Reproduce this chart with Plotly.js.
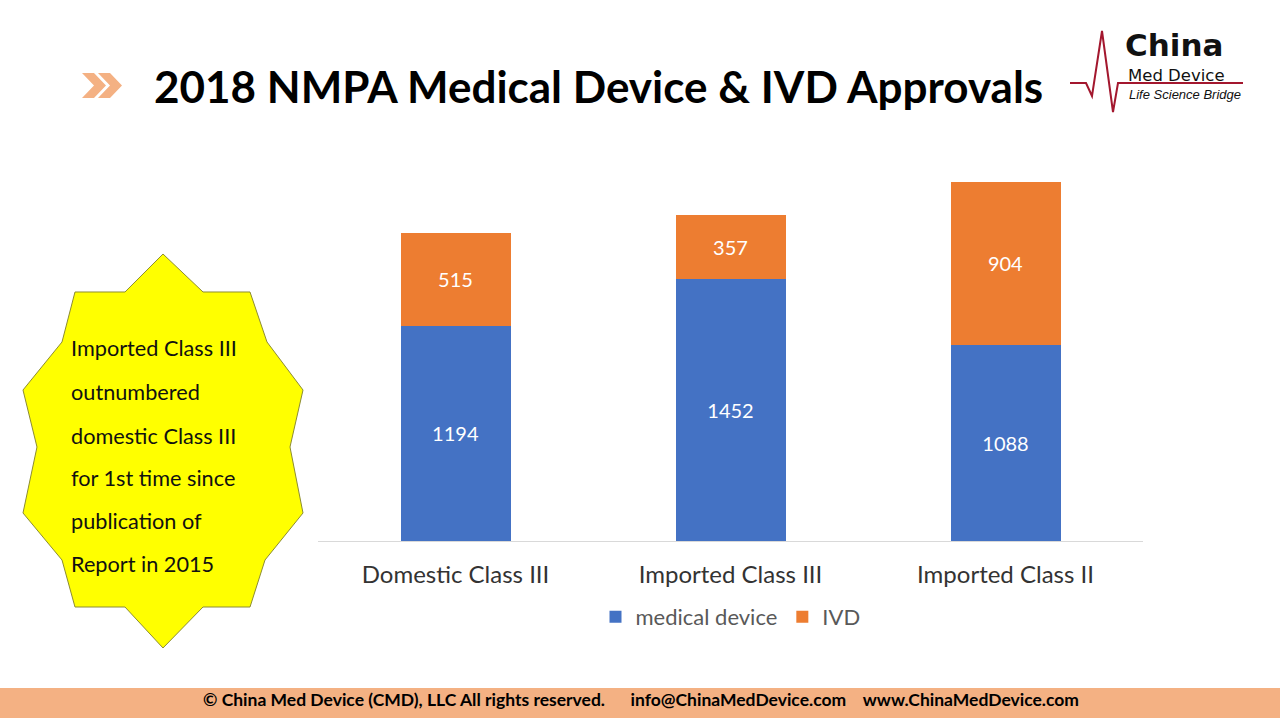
<!DOCTYPE html>
<html>
<head>
<meta charset="utf-8">
<script src="https://cdn.plot.ly/plotly-3.0.1.min.js"></script>
<style>
html,body{margin:0;padding:0;background:#fff;}
#chart{width:1280px;height:720px;}
</style>
</head>
<body>
<div id="chart"></div>
<script>
const categories = ["Domestic Class III", "Imported Class III", "Imported Class II"];
const medicalDevice = [1194, 1452, 1088];
const ivd = [515, 357, 904];
const seriesNames = ["medical device", "IVD"];
const titleText = "2018 NMPA Medical Device &amp; IVD Approvals";
const calloutLines = ["Imported Class III", "outnumbered", "domestic Class III", "for 1st time since", "publication of", "Report in 2015"];
const footerText = "© China Med Device (CMD), LLC All rights reserved.      info@ChinaMedDevice.com    www.ChinaMedDevice.com";

const W = 1280, H = 720;
const L = 318, R = 1143, T = 145, B = 541;
const px = x => (x - L) / (R - L);
const py = y => (B - y) / (B - T);
const FONT = "Lato, 'Open Sans', sans-serif";
const LOGO = "'DejaVu Sans', 'Liberation Sans', sans-serif";

function path(pts) {
  return "M" + pts.map(p => px(p[0]).toFixed(5) + "," + py(p[1]).toFixed(5)).join(" L") + " Z";
}

const star = [[163,254],[203,292],[250,292],[267,342],[303,390],[290,447],[303,513],[265,560],[250,607],[203,607],[163,648],[125,607],[75,607],[62,560],[23,513],[37,447],[23,390],[62,342],[75,292],[125,292]];
const chev1 = [[82,73],[94,73],[106,85.5],[94,98],[82,98],[94,85.5]];
const chev2 = [[98,73],[110,73],[122,85.5],[110,98],[98,98],[110,85.5]];
const ecg = [[1070,83],[1086,83],[1092,96],[1102,31],[1113,112],[1118,83],[1243,83]];

const shapes = [
  {type:"rect", xref:"paper", yref:"paper", x0:px(0), x1:px(1280), y0:py(718), y1:py(688), fillcolor:"#F4B183", line:{width:0}, layer:"below"},
  {type:"path", xref:"paper", yref:"paper", path:path(star), fillcolor:"#FFFF00", line:{color:"#8C8C32", width:1}},
  {type:"path", xref:"paper", yref:"paper", path:path(chev1), fillcolor:"#F4B183", line:{width:0}},
  {type:"path", xref:"paper", yref:"paper", path:path(chev2), fillcolor:"#F4B183", line:{width:0}},
  {type:"path", xref:"paper", yref:"paper", path:"M" + ecg.map(p => px(p[0]).toFixed(5) + "," + py(p[1]).toFixed(5)).join(" L"), line:{color:"#A3172E", width:2}}
];

const annotations = [
  {xref:"paper", yref:"paper", x:px(152), y:py(86), xanchor:"left", yanchor:"middle", showarrow:false, text:"<b>" + titleText + "</b>", font:{family:FONT, size:44, color:"#000"}},
  {xref:"paper", yref:"paper", x:px(641), y:py(699), xanchor:"center", yanchor:"middle", showarrow:false, text:"<b>" + footerText.replace(/ {2,}/g, m => "&nbsp;".repeat(m.length)) + "</b>", font:{family:FONT, size:17.5, color:"#000"}},
  {xref:"paper", yref:"paper", x:px(1123), y:py(45), xanchor:"left", yanchor:"middle", showarrow:false, text:"<b>China</b>", font:{family:LOGO, size:31, color:"#111"}},
  {xref:"paper", yref:"paper", x:px(1126), y:py(75), xanchor:"left", yanchor:"middle", showarrow:false, text:"Med Device", font:{family:LOGO, size:16.5, color:"#111"}},
  {xref:"paper", yref:"paper", x:px(1127), y:py(95), xanchor:"left", yanchor:"middle", showarrow:false, text:"<i>Life Science Bridge</i>", font:{family:"'Liberation Sans', Arial, sans-serif", size:13, color:"#111"}}
];
const lineY = [348, 392, 436, 478, 521, 564];
calloutLines.forEach((t, i) => {
  annotations.push({xref:"paper", yref:"paper", x:px(69), y:py(lineY[i]), xanchor:"left", yanchor:"middle", showarrow:false, text:t, font:{family:FONT, size:21.7, color:"#111"}});
});

const data = [
  {type:"bar", name:seriesNames[0], x:categories, y:medicalDevice, marker:{color:"#4472C4"}, text:medicalDevice.map(String), textposition:"inside", insidetextanchor:"middle", textangle:0, textfont:{family:FONT, size:20, color:"#FFFFFF"}, constraintext:"none", hoverinfo:"none"},
  {type:"bar", name:seriesNames[1], x:categories, y:ivd, marker:{color:"#ED7D31"}, text:ivd.map(String), textposition:"inside", insidetextanchor:"middle", textangle:0, textfont:{family:FONT, size:20, color:"#FFFFFF"}, constraintext:"none", hoverinfo:"none"}
];

const layout = {
  width:W, height:H,
  margin:{l:L, r:W-R, t:T, b:H-B, pad:0},
  paper_bgcolor:"#FFFFFF", plot_bgcolor:"#FFFFFF",
  barmode:"stack", bargap:0.6,
  showlegend:true,
  legend:{orientation:"h", x:0.5, xanchor:"center", y:py(617), yanchor:"middle", font:{family:FONT, size:22, color:"#595959"}, itemwidth:30, traceorder:"normal"},
  xaxis:{showline:true, linecolor:"#D9D9D9", linewidth:1, ticks:"", ticklabelstandoff:12, tickfont:{family:FONT, size:24, color:"#333333"}, showgrid:false, zeroline:false, fixedrange:true},
  yaxis:{range:[0, 2197], visible:false, showgrid:false, zeroline:false, fixedrange:true},
  shapes:shapes,
  annotations:annotations,
  font:{family:FONT}
};

Plotly.newPlot("chart", data, layout, {displayModeBar:false, staticPlot:true});
</script>
</body>
</html>
